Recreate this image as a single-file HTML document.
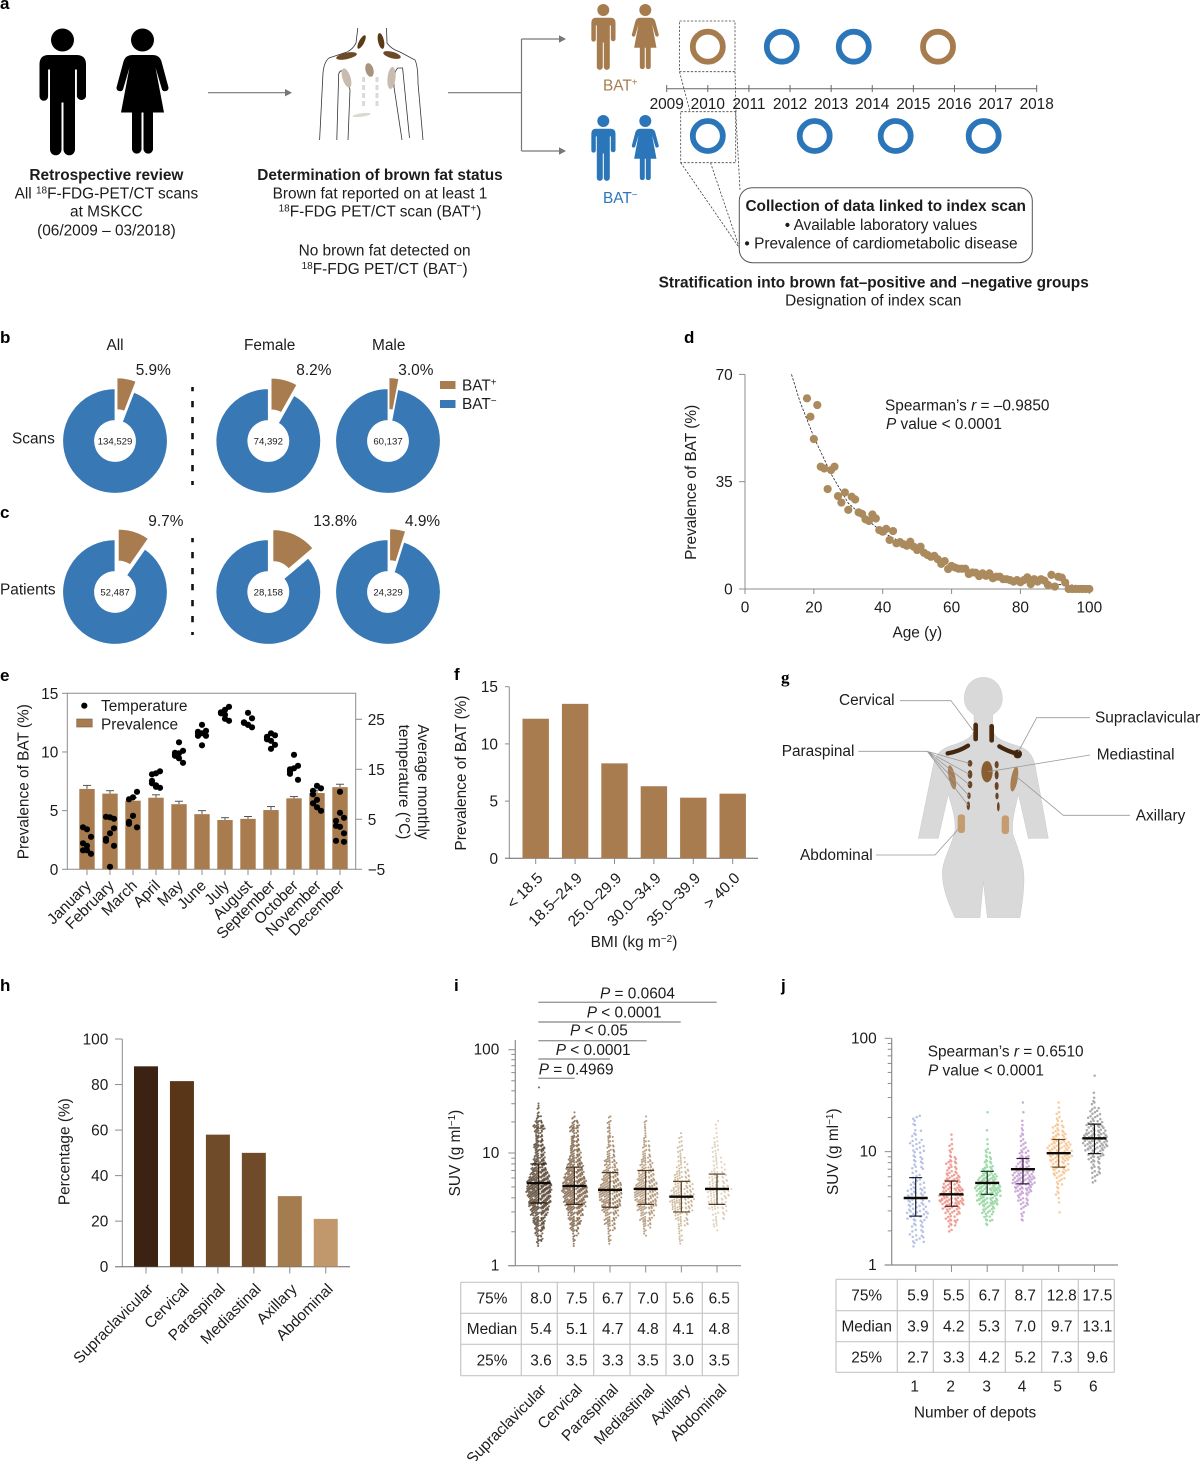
<!DOCTYPE html>
<html lang="en">
<head>
<meta charset="utf-8">
<title>Brown fat prevalence figure</title>
<style>
html,body{margin:0;padding:0;background:#fff;}
svg{display:block;}
text{font-family:"Liberation Sans",Arial,sans-serif;font-size:15.4px;fill:#1c1c1c;}
.b{font-weight:bold;}
.pl{font-weight:bold;font-size:17px;fill:#000;}
.m{text-anchor:middle;}
.i{font-style:italic;}
</style>
</head>
<body>
<svg id="fig" xmlns="http://www.w3.org/2000/svg" width="1200" height="1461" viewBox="0 0 1200 1461">
<defs>
<g id="male"><circle cx="0" cy="12.5" r="11.5"/><path d="M-23,37 Q-23,27.5 -14,27.5 L14,27.5 Q23.5,27.5 23.5,37 L23.5,69 A4.7,4.7 0 0 1 14.4,69 L14.4,42 L12.5,42 L12.5,122 A5.7,5.7 0 0 1 1,122 L1,75 L-1,75 L-1,122 A5.7,5.7 0 0 1 -12.5,122 L-12.5,42 L-14.4,42 L-14.4,69 A4.3,4.3 0 0 1 -23,69 Z"/></g>
<g id="female"><circle cx="0" cy="12.5" r="11.5"/><path d="M-10,27.5 L10,27.5 Q17,27.5 19,34 L26,60 A3.5,3.5 0 0 1 19.5,62 L13,40 L21.5,85 L10.5,85 L10.5,122 A4.8,4.8 0 0 1 1,122 L1,85 L-1,85 L-1,122 A4.8,4.8 0 0 1 -10.5,122 L-10.5,85 L-21.5,85 L-13,40 L-19.5,62 A3.5,3.5 0 0 1 -26,60 L-19,34 Q-17,27.5 -10,27.5 Z"/></g>
</defs>

<!-- panel letters -->
<text class="pl" x="0" y="9">a</text>
<text class="pl" x="0" y="343">b</text>
<text class="pl" x="0" y="518">c</text>
<text class="pl" x="684" y="343">d</text>
<text class="pl" x="0" y="681">e</text>
<text class="pl" x="454" y="680">f</text>
<text class="pl" x="781" y="683" style="font-family:'Liberation Serif',serif">g</text>
<text class="pl" x="0" y="991">h</text>
<text class="pl" x="454" y="991">i</text>
<text class="pl" x="781" y="991">j</text>

<!-- panel a -->
<g>
<use href="#male" transform="translate(62.5,27.5)" fill="#000"/>
<use href="#female" transform="translate(142.5,27.5)" fill="#000"/>
<text class="b m" x="106.4" y="180">Retrospective review</text>
<text class="m" x="106.4" y="198.3">All <tspan dy="-5" font-size="10">18</tspan><tspan dy="5">F-FDG-PET/CT scans</tspan></text>
<text class="m" x="106.4" y="216.7">at MSKCC</text>
<text class="m" x="106.4" y="235.6">(06/2009 – 03/2018)</text>
<path d="M208,92.7 H288" stroke="#777" stroke-width="1.2" fill="none"/>
<path d="M285,89 L292,92.7 L285,96.4 Z" fill="#777"/>
<g>
<path d="M357.8,28 L356,43 Q352,51 344,53 L329,58 Q324,62 323,73 L319.6,140 M386.5,28 L387,43 Q391,49 400,52 L415,60 Q418,66 418,83 L423,140 M336.8,140 L338.7,74 Q340,70 342.5,71 Q348,78 350,90 L348,140 M402,140 L394,87 Q394,70 398,68 L402.6,68 L409.5,138" fill="none" stroke="#333" stroke-width=".8"/>
<ellipse cx="361.6" cy="42" rx="2.6" ry="7.5" transform="rotate(28 361.6 42)" fill="#5c3a18"/>
<ellipse cx="381" cy="41" rx="3" ry="8" transform="rotate(-12 381 41)" fill="#5c3a18"/>
<ellipse cx="346.5" cy="56" rx="10.5" ry="3.2" transform="rotate(-12 346.5 56)" fill="#6d4a26"/>
<ellipse cx="392" cy="55" rx="9" ry="3.2" transform="rotate(15 392 55)" fill="#6d4a26"/>
<ellipse cx="369.5" cy="70" rx="4" ry="7" transform="rotate(-15 369.5 70)" fill="#a8937d"/>
<ellipse cx="346.5" cy="78" rx="4" ry="10" transform="rotate(-18 346.5 78)" fill="#c8bcae"/>
<ellipse cx="391.5" cy="78" rx="4" ry="11" transform="rotate(6 391.5 78)" fill="#c8bcae"/>
<path d="M363.6,77 V107 M377,77 V107" stroke="#dcd9d4" stroke-width="3" stroke-dasharray="5 3" fill="none"/>
<ellipse cx="361.6" cy="115" rx="9" ry="1.8" transform="rotate(-8 361.6 115)" fill="#dcd9d4"/>
</g>
<text class="b m" x="380" y="180">Determination of brown fat status</text>
<text class="m" x="380" y="198.3">Brown fat reported on at least 1</text>
<text class="m" x="380" y="216.7"><tspan dy="-5" font-size="10">18</tspan><tspan dy="5">F-FDG PET/CT scan (BAT</tspan><tspan dy="-5" font-size="10">+</tspan><tspan dy="5">)</tspan></text>
<text class="m" x="384.6" y="255.7">No brown fat detected on</text>
<text class="m" x="384.6" y="274"><tspan dy="-5" font-size="10">18</tspan><tspan dy="5">F-FDG PET/CT (BAT</tspan><tspan dy="-5" font-size="10">−</tspan><tspan dy="5">)</tspan></text>
<path d="M448,92.7 H521.5 M521.5,39 V151 M521.5,39 H562 M521.5,151 H562" stroke="#777" stroke-width="1.2" fill="none"/>
<path d="M559,35.3 L566,39 L559,42.7 Z M559,147.3 L566,151 L559,154.7 Z" fill="#777"/>
<use href="#male" transform="translate(603.3,3.5) scale(.52)" fill="#a67c4e"/>
<use href="#female" transform="translate(645.3,3.5) scale(.52)" fill="#a67c4e"/>
<use href="#male" transform="translate(603.3,114.5) scale(.52)" fill="#2b76b9"/>
<use href="#female" transform="translate(645.3,114.5) scale(.52)" fill="#2b76b9"/>
<text x="603" y="90.7" style="fill:#a67c4e">BAT<tspan dy="-5" font-size="10" style="fill:#a67c4e">+</tspan></text>
<text x="603" y="203" style="fill:#2b76b9">BAT<tspan dy="-5" font-size="10" style="fill:#2b76b9">−</tspan></text>
<g id="timeline"></g>
<g id="rings"></g>
<g fill="none" stroke="#444" stroke-width=".8" stroke-dasharray="2.2 1.6">
<rect x="679.5" y="21" width="55.5" height="50.7"/>
<rect x="680.7" y="111.7" width="55" height="51"/>
<path d="M679.5,71.7 L690,111.7 M735,71.7 L736,111.7 M735.7,111.7 L740,190 M680.7,162.7 L739.5,248 M710.5,162.7 L739.5,248"/>
</g>
<rect x="739.3" y="187.7" width="293" height="75" rx="13" fill="#fff" stroke="#555" stroke-width="1"/>
<text class="b m" x="885.7" y="211">Collection of data linked to index scan</text>
<text class="m" x="881" y="230">• Available laboratory values</text>
<text class="m" x="881" y="248.3">• Prevalence of cardiometabolic disease</text>
<text class="b m" x="873.7" y="287.3">Stratification into brown fat–positive and –negative groups</text>
<text class="m" x="873.3" y="305.7">Designation of index scan</text>
</g>

<!-- panels b, c -->
<g id="pies">
<text class="m" x="115" y="350">All</text>
<text class="m" x="269.7" y="350">Female</text>
<text class="m" x="388.7" y="350">Male</text>
<text x="12" y="443.3">Scans</text>
<text x="0" y="594.3">Patients</text>
<path d="M192.5,387 V485 M192.5,538 V635" stroke="#111" stroke-width="2.6" stroke-dasharray="6.3 9.7" stroke-dashoffset="2" fill="none"/>
<rect x="440" y="381" width="15.5" height="8" fill="#a87c4f"/>
<text x="462" y="390.5">BAT<tspan dy="-5" font-size="10">+</tspan></text>
<rect x="440" y="400" width="15.5" height="8" fill="#3878b4"/>
<text x="462" y="409">BAT<tspan dy="-5" font-size="10">−</tspan></text>
</g>

<!-- panel d -->
<g id="panelD">
<text x="885" y="410.7">Spearman’s <tspan class="i">r</tspan> = –0.9850</text>
<text x="886" y="429"><tspan class="i">P</tspan> value &lt; 0.0001</text>
</g>

<!-- panel e -->
<g id="panelE"></g>
<!-- panel f -->
<g id="panelF"></g>

<!-- panel g -->
<g>
<g transform="translate(770,670) scale(.33333)">
<path d="M640,22 C675,22 697,50 697,85 C697,115 680,125 668,135 L668,180 C675,205 700,215 745,228 C775,238 788,255 795,285 L835,505 L775,505 L745,372 C735,420 725,450 728,490 C745,540 762,580 762,625 C762,670 755,710 750,743 L652,743 L640,635 L630,743 L555,743 C540,710 517,660 517,610 C517,570 545,530 555,480 C557,440 545,410 535,372 L505,505 L445,505 L490,285 C495,258 510,238 540,228 C580,215 605,205 612,180 L612,135 C600,125 583,115 583,85 C583,50 605,22 640,22 Z" fill="#d9d9d9" stroke="#bbb" stroke-width="1"/>
<rect x="610" y="158" width="14" height="56" rx="7" fill="#4a2a10"/>
<rect x="658" y="162" width="14" height="56" rx="7" fill="#4a2a10"/>
<path d="M533,250 Q565,245 594,227" fill="none" stroke="#42260f" stroke-width="13" stroke-linecap="round"/>
<path d="M688,229 Q715,245 745,252" fill="none" stroke="#42260f" stroke-width="13" stroke-linecap="round"/>
<circle cx="743" cy="252" r="13" fill="#42260f"/>
<g fill="#6b4423">
<ellipse cx="600" cy="280" rx="7" ry="10"/><ellipse cx="600" cy="313" rx="7" ry="13"/><ellipse cx="600" cy="344" rx="7" ry="11"/><ellipse cx="597" cy="377" rx="5" ry="10"/><ellipse cx="595" cy="407" rx="5" ry="13"/>
<ellipse cx="680" cy="284" rx="6" ry="11"/><ellipse cx="680" cy="315" rx="6" ry="13"/><ellipse cx="680" cy="348" rx="6" ry="12"/><ellipse cx="681" cy="378" rx="5" ry="10"/><ellipse cx="685" cy="410" rx="4" ry="14"/>
</g>
<ellipse cx="651" cy="305" rx="17" ry="32" fill="#8a5e33"/>
<ellipse cx="546" cy="322" rx="10" ry="37" transform="rotate(-12 546 322)" fill="#a87f52"/>
<ellipse cx="733" cy="327" rx="10" ry="38" transform="rotate(10 733 327)" fill="#a87f52"/>
<rect x="563" y="433" width="22" height="56" rx="9" fill="#c49c6e"/>
<rect x="695" y="436" width="22" height="56" rx="9" fill="#c49c6e"/>
<path d="M390,92 H543 L612,185 M960,143 H800 L745,245 M960,255 L655,305 M1080,436 H880 L737,318 M265,244 H472 M472,244 L598,280 M472,244 L598,313 M472,244 L598,344 M472,244 L597,377 M472,244 L595,407 M318,555 H495 L572,470" fill="none" stroke="#999" stroke-width="2.4"/>
</g>
<text x="839" y="705">Cervical</text>
<text x="1095" y="722.3">Supraclavicular</text>
<text x="781.7" y="756">Paraspinal</text>
<text x="1096.7" y="759.3">Mediastinal</text>
<text x="1135.7" y="820.7">Axillary</text>
<text x="800" y="860">Abdominal</text>
</g>

<!-- panel h -->
<g id="panelH"></g>
<!-- panel i -->
<g id="panelI">
<text x="600" y="998.3"><tspan class="i">P</tspan> = 0.0604</text>
<text x="586.7" y="1017.3"><tspan class="i">P</tspan> &lt; 0.0001</text>
<text x="570" y="1035.7"><tspan class="i">P</tspan> &lt; 0.05</text>
<text x="555.7" y="1055"><tspan class="i">P</tspan> &lt; 0.0001</text>
<text x="538.7" y="1074.3"><tspan class="i">P</tspan> = 0.4969</text>
<path d="M538.3,1002.3 H716.7 M538.3,1022 H680.7 M538.3,1040.7 H646.7 M538.3,1059 H610 M538.3,1078.3 H574.7" stroke="#999" stroke-width="1.4" fill="none"/>
</g>
<!-- panel j -->
<g id="panelJ">
<text x="927.7" y="1056.7">Spearman’s <tspan class="i">r</tspan> = 0.6510</text>
<text x="928" y="1075.7"><tspan class="i">P</tspan> value &lt; 0.0001</text>
<text class="m" x="975" y="1417.7">Number of depots</text>
</g>
</svg>

<script>
// ---------- panel a data ----------
var timelineYears = [2009,2010,2011,2012,2013,2014,2015,2016,2017,2018];
// ---------- panels b, c data ----------
var pieGroups = ['all-scans','female-scans','male-scans','all-patients','female-patients','male-patients'];
var piePercents = [5.9,8.2,3.0,9.7,13.8,4.9];
var pieTotals = ['134,529','74,392','60,137','52,487','28,158','24,329'];
// ---------- panel d data ----------
var ageValues = [18,19,20,21,22,23,24,25,26,27,28,29,30,31,32,33,34,35,36,37,38,39,40,41,42,43,44,45,46,47,48,49,50,51,52,53,54,55,56,57,58,59,60,61,62,63,64,65,66,67,68,69,70,71,72,73,74,75,76,77,78,79,80,81,82,83,84,85,86,87,88,89,90,91,92,93,94,95,96,97,98,99,100];
var batByAge = [62.2,56.2,48.9,60,39.9,39.3,32.6,38.8,39.9,30.3,28.2,31.5,25.8,30.1,29.2,25,24.5,22.7,22.2,24.3,23,19.2,18.7,19.6,16,18.9,14.9,15.3,14.6,14.1,15.4,13.8,12.7,13.8,11.8,11.1,10.5,10.8,9.7,8.2,9.1,6.5,7.5,7,6.6,6.6,6.6,4.9,5.4,5.3,4.2,5.1,4.3,5.1,3.5,4,4,3.2,3.2,2.9,2.4,2.9,2.2,2.9,3.8,1.6,3.2,2.4,3.2,2.7,1.3,4.6,0.8,4,3.7,2.1,0,0,0,0,0,0,0];
var fitAges = [13.5,16,20,25,30,35,40,50,60,70,80,90,100];
var fitValues = [70,61,49.5,37.5,28,23,18.5,12.5,7.5,4.5,2.5,1.5,1];
var ageTicks = [0,20,40,60,80,100];
var batTicks = [0,35,70];
// ---------- panel e data ----------
var months = ['January','February','March','April','May','June','July','August','September','October','November','December'];
var monthPrevalence = [6.85,6.45,5.85,6.1,5.55,4.7,4.2,4.3,5.05,6.05,6.5,7.0];
var monthPrevalenceUpper = [7.15,6.7,6.1,6.35,5.8,5.0,4.4,4.5,5.35,6.2,6.75,7.25];
var tempJanuary = [3.4,3.0,1.5,0.2,-0.3,-1.9,-1.2,-1.2];
var tempFebruary = [5.5,5.4,5.1,1.1,2.2,3.2,0.7,-4.5,-0.3];
var tempMarch = [9,9.4,10.5,4.5,5.7,3.4,4.1];
var tempApril = [12.7,14.2,14.6,12.2,11.8,11.3,14,11.5];
var tempMay = [18.3,20.4,18.7,17.9,18.2,16.3,17.7,17.2];
var tempJune = [22.5,23.9,22.7,22.2,22.2,21.7,21.7,19.8];
var tempJuly = [26.3,26.9,27.5,26.2,25.9,24.7,26.4,25.1];
var tempAugust = [24.4,26.3,25.2,24.3,23.9,23.4,24.3,23.9];
var tempSeptember = [21.2,22.2,21.8,21.0,20.7,19.9,21.5,19.1];
var tempOctober = [15,17.9,15.7,14.6,15.2,12.9,14.1];
var tempNovember = [10.7,11.7,11.2,10,8.9,6.7,8.2,7.4];
var tempDecember = [4.7,10.5,5.3,3.7,6.3,2.2,0.7,3.5,0.5];
var prevalenceTicksE = [0,5,10,15];
var temperatureTicks = [-5,5,15,25];
// ---------- panel f data ----------
var bmiCategories = ['< 18.5','18.5–24.9','25.0–29.9','30.0–34.9','35.0–39.9','> 40.0'];
var bmiPrevalence = [12.2,13.5,8.3,6.3,5.3,5.65];
var prevalenceTicksF = [0,5,10,15];
// ---------- panel h data ----------
var depotNames = ['Supraclavicular','Cervical','Paraspinal','Mediastinal','Axillary','Abdominal'];
var depotPercent = [88,81.5,58,50,31,21];
var percentTicks = [0,20,40,60,80,100];
// ---------- panels i, j: SUV beeswarm data (dot counts per SUV bin) ----------
var suvBins = [1.5,1.65,1.8,2,2.2,2.4,2.6,2.9,3.2,3.5,3.8,4.2,4.6,5,5.5,6,6.6,7.2,8,8.7,9.5,10.5,11.5,12.6,13.8,15,16.6,18,20,22,24,26.5,29,32,35,38,42,46];
var countsSupraclavicular = [2,5,7,10,12,14,16,22,24,28,30,32,34,34,32,28,24,20,16,14,12,12,14,10,8,8,10,14,8,4,3,2,2,0,0,0,1,0];
var countsCervical = [2,2,4,7,9,12,14,18,20,24,27,30,32,30,28,26,22,20,18,14,12,12,10,8,8,6,9,10,6,3,1,0,0,0,0,0,0,0];
var countsParaspinal = [1,2,3,4,6,9,10,13,16,18,20,22,22,22,18,15,13,12,10,9,7,6,5,4,4,3,3,3,3,2,0,0,0,0,0,0,0,0];
var countsMediastinal = [0,0,1,3,5,7,10,12,15,18,20,22,22,20,18,15,14,12,10,8,7,5,5,4,3,2,2,2,2,1,0,0,0,0,0,0,0,0];
var countsAxillary = [1,2,3,3,4,6,8,10,14,14,16,16,14,12,12,10,9,7,5,4,3,3,3,2,2,1,0,0,0,0,0,0,0,0,0,0,0,0];
var countsAbdominal = [0,0,0,1,2,3,5,6,8,8,10,11,11,12,10,8,7,5,5,4,3,3,3,3,2,1,1,1,1,0,0,0,0,0,0,0,0,0];
var countsOneDepot = [2,4,5,4,4,4,7,8,7,6,8,7,6,5,4,3,2,4,4,4,3,4,5,3,2,3,1,2,3,0,0,0,0,0,0,0,0,0];
var countsTwoDepots = [0,0,0,2,3,5,6,8,10,13,14,14,12,10,9,8,6,5,6,4,2,2,2,1,1,0,0,0,0,0,0,0,0,0,0,0,0,0];
var countsThreeDepots = [0,0,0,0,1,3,5,7,8,12,14,16,17,16,14,11,8,7,5,4,3,2,1,1,0,1,0,0,0,1,0,0,0,0,0,0,0,0];
var countsFourDepots = [0,0,0,0,0,1,2,2,3,4,6,7,10,11,14,13,11,9,7,5,5,4,3,2,2,2,2,1,0,1,0,1,0,0,0,0,0,0];
var countsFiveDepots = [0,0,0,0,0,0,0,1,0,1,1,2,2,3,3,5,7,9,9,11,13,13,11,9,7,6,6,3,2,2,1,1,0,0,0,0,0,0];
var countsSixDepots = [0,0,0,0,0,0,0,0,0,0,0,0,0,0,2,3,4,5,5,6,8,11,13,13,13,11,9,7,6,5,3,2,2,1,0,0,0,1];
var depotQ3 = [8.0,7.5,6.7,7.0,5.6,6.5];
var depotMedian = [5.4,5.1,4.7,4.8,4.1,4.8];
var depotQ1 = [3.6,3.5,3.3,3.5,3.0,3.5];
var countQ3 = [5.9,5.5,6.7,8.7,12.8,17.5];
var countMedian = [3.9,4.2,5.3,7.0,9.7,13.1];
var countQ1 = [2.7,3.3,4.2,5.2,7.3,9.6];
var depotCountLabels = ['1','2','3','4','5','6'];
var suvMajorTicks = [1,10,100];
var suvMinorTicks = [2,3,4,5,6,7,8,9,20,30,40,50,60,70,80,90];
var tableRowNames = ['75%','Median','25%'];

// ---------- helpers ----------
var NS = 'http://www.w3.org/2000/svg';
function make(parent, tag, attrs, name, text) {
  var el = document.createElementNS(NS, tag);
  for (var k in attrs) { el.setAttribute(k, attrs[k]); }
  
  
  if (text !== undefined) { el.textContent = text; }
  parent.appendChild(el);
  return el;
}
function line(p, x1, y1, x2, y2, color, w, name) {
  return make(p, 'line', {x1:x1, y1:y1, x2:x2, y2:y2, stroke:color, 'stroke-width':w}, name);
}
function txt(p, x, y, s, anchor, name) {
  return make(p, 'text', {x:x, y:y, 'text-anchor':anchor || 'start'}, name, s);
}
function rotText(p, x, y, s, deg, anchor, name) {
  return make(p, 'text', {x:x, y:y, 'text-anchor':anchor, transform:'rotate('+deg+' '+x+' '+y+')'}, name, s);
}
function supTitle(p, x, y, name) {
  var t = make(p, 'text', {x:x, y:y, 'text-anchor':'middle', transform:'rotate(-90 '+x+' '+y+')'}, name);
  t.innerHTML = 'SUV (g ml<tspan dy="-5" font-size="10">−1</tspan><tspan dy="5">)</tspan>';
}
var AX = '#8c8c8c';

// ---------- timeline ----------
(function () {
  var g = document.getElementById('timeline');
  var xT = function (yr) { return 666.7 + (yr - 2009) * 41.11; };
  line(g, xT(2009), 88.7, xT(2018), 88.7, '#666', 1, 'timeline-axis');
  timelineYears.forEach(function (yr) {
    line(g, xT(yr), 85, xT(yr), 92, '#666', 1, 'timeline-tick');
    txt(g, xT(yr), 109, String(yr), 'middle', 'timeline-year');
  });
  var r = document.getElementById('rings');
  var ringYears = [2010, 2011.8, 2013.55, 2015.6];
  var ringYearsNeg = [2010, 2012.6, 2014.57, 2016.71];
  var ringColors = ['#a67c4e', '#2b76b9', '#2b76b9', '#a67c4e'];
  ringYears.forEach(function (yr, i) {
    make(r, 'circle', {cx:xT(yr), cy:46.7, r:15, fill:'none', stroke:ringColors[i], 'stroke-width':5.8}, 'scan-ring-top');
  });
  ringYearsNeg.forEach(function (yr) {
    make(r, 'circle', {cx:xT(yr), cy:136, r:15, fill:'none', stroke:'#2b76b9', 'stroke-width':5.8}, 'scan-ring-bottom');
  });
})();

// ---------- donuts ----------
(function () {
  var g = document.getElementById('pies');
  var cxs = [115, 268.3, 388, 115, 268.3, 388];
  var cys = [441, 441, 441, 592, 592, 592];
  var pctX = [135.7, 296.3, 398.3, 148.3, 313.3, 405];
  var R = 52.3, r = 20.5, off = 11;
  function pt(cx, cy, rad, a) { return (cx + rad * Math.sin(a)).toFixed(2) + ',' + (cy - rad * Math.cos(a)).toFixed(2); }
  function sector(cx, cy, a0, a1) {
    var large = (a1 - a0) > Math.PI ? 1 : 0;
    return 'M' + pt(cx, cy, r, a0) + ' L' + pt(cx, cy, R, a0) + ' A' + R + ',' + R + ' 0 ' + large + ' 1 ' + pt(cx, cy, R, a1) +
      ' L' + pt(cx, cy, r, a1) + ' A' + r + ',' + r + ' 0 ' + large + ' 0 ' + pt(cx, cy, r, a0) + ' Z';
  }
  piePercents.forEach(function (p, i) {
    var a = p / 100 * 2 * Math.PI;
    var cx = cxs[i], cy = cys[i];
    make(g, 'path', {d:sector(cx, cy, a, 2 * Math.PI), fill:'#3878b4', stroke:'#fff', 'stroke-width':0.8}, 'donut-bat-negative-' + pieGroups[i]);
    var sx = cx + off * Math.sin(a / 2), sy = cy - off * Math.cos(a / 2);
    make(g, 'path', {d:sector(sx, sy, 0, a), fill:'#a87c4f', stroke:'#fff', 'stroke-width':0.8}, 'donut-bat-positive-' + pieGroups[i]);
    make(g, 'text', {x:cx, y:cy + 3.4, 'text-anchor':'middle', style:'font-size:9.6px'}, 'donut-total-' + pieGroups[i], pieTotals[i]);
    txt(g, pctX[i], i < 3 ? 375 : 526, p.toFixed(1) + '%', 'start', 'donut-percent-' + pieGroups[i]);
  });
})();

// ---------- panel d ----------
(function () {
  var g = document.getElementById('panelD');
  var xS = function (v) { return 745 + v * 3.443; };
  var yS = function (v) { return 589 - v * 3.066; };
  line(g, 745, 374.3, 745, 589, AX, 1, 'y-axis');
  line(g, 739, 589, 1089.3, 589, AX, 1, 'x-axis');
  ageTicks.forEach(function (t) {
    line(g, xS(t), 589, xS(t), 594, AX, 1, 'x-tick');
    txt(g, xS(t), 612.7, String(t), 'middle', 'x-tick-label');
  });
  batTicks.forEach(function (t) {
    line(g, 739, yS(t), 745, yS(t), AX, 1, 'y-tick');
    txt(g, 732.7, yS(t) + 5.5, String(t), 'end', 'y-tick-label');
  });
  txt(g, 917.3, 637.3, 'Age (y)', 'middle', 'x-axis-title');
  rotText(g, 696, 482.3, 'Prevalence of BAT (%)', -90, 'middle', 'y-axis-title');
  var pts = fitAges.map(function (a, i) { return xS(a).toFixed(1) + ',' + yS(fitValues[i]).toFixed(1); }).join(' ');
  make(g, 'polyline', {points:pts, fill:'none', stroke:'#222', 'stroke-width':0.8, 'stroke-dasharray':'2.5 1.5'}, 'fit-curve');
  ageValues.forEach(function (a, i) {
    make(g, 'circle', {cx:xS(a), cy:yS(batByAge[i]), r:4.1, fill:'#ab8a5e'}, 'point-age-' + a);
  });
})();

// ---------- panel e ----------
(function () {
  var g = document.getElementById('panelE');
  var temps = [tempJanuary,tempFebruary,tempMarch,tempApril,tempMay,tempJune,tempJuly,tempAugust,tempSeptember,tempOctober,tempNovember,tempDecember];
  var xS = function (i) { return 87 + i * 23; };
  var yL = function (v) { return 869.3 - v * 11.733; };
  var yR = function (v) { return 869.3 - (v + 5) * 5; };
  make(g, 'path', {d:'M67.3,693.3 H355.7 V869.3 H67.3 Z', fill:'none', stroke:AX, 'stroke-width':1}, 'plot-frame');
  prevalenceTicksE.forEach(function (t) {
    line(g, 62, yL(t), 67.3, yL(t), AX, 1, 'left-tick');
    txt(g, 58.3, yL(t) + 5.5, String(t), 'end', 'left-tick-label');
  });
  temperatureTicks.forEach(function (t) {
    line(g, 355.7, yR(t), 362, yR(t), AX, 1, 'right-tick');
    txt(g, 367.7, yR(t) + 5.5, String(t).replace('-', '−'), 'start', 'right-tick-label');
  });
  months.forEach(function (m, i) {
    var x = xS(i);
    line(g, x, yL(monthPrevalenceUpper[i]), x, yL(monthPrevalence[i]), '#555', 1, 'error-bar-' + m);
    line(g, x - 4, yL(monthPrevalenceUpper[i]), x + 4, yL(monthPrevalenceUpper[i]), '#555', 1, 'error-cap-' + m);
    make(g, 'rect', {x:x - 7.7, y:yL(monthPrevalence[i]), width:15.4, height:869.3 - yL(monthPrevalence[i]), fill:'#a87c4f'}, 'bar-' + m);
    line(g, x, 869.3, x, 875, AX, 1, 'x-tick');
    rotText(g, x + 5, 886.5, m, -45, 'end', 'month-label-' + m);
  });
  var offs = [-4, 0, 4];
  temps.forEach(function (arr, i) {
    arr.forEach(function (t, k) {
      make(g, 'circle', {cx:xS(i) + offs[k % 3], cy:yR(t), r:3.1, fill:'#000'}, 'temperature-point-' + months[i]);
    });
  });
  make(g, 'circle', {cx:84.3, cy:705.7, r:3.1, fill:'#000'}, 'legend-marker-temperature');
  txt(g, 101, 711, 'Temperature', 'start', 'legend-entry-temperature');
  make(g, 'rect', {x:76.7, y:719, width:15.5, height:8, fill:'#a87c4f', stroke:'#6d5a44', 'stroke-width':0.6}, 'legend-marker-prevalence');
  txt(g, 101, 729.5, 'Prevalence', 'start', 'legend-entry-prevalence');
  rotText(g, 28.3, 781.7, 'Prevalence of BAT (%)', -90, 'middle', 'left-axis-title');
  rotText(g, 418, 782, 'Average monthly', 90, 'middle', 'right-axis-title-line-1');
  rotText(g, 399, 782, 'temperature (°C)', 90, 'middle', 'right-axis-title-line-2');
})();

// ---------- panel f ----------
(function () {
  var g = document.getElementById('panelF');
  var xS = function (i) { return 535.7 + i * 39.4; };
  var yS = function (v) { return 858.3 - v * 11.44; };
  line(g, 509.3, 686.7, 509.3, 858.3, AX, 1, 'y-axis');
  line(g, 505, 858.3, 758, 858.3, '#666', 1, 'x-axis');
  prevalenceTicksF.forEach(function (t) {
    line(g, 505, yS(t), 509.3, yS(t), AX, 1, 'y-tick');
    txt(g, 498, yS(t) + 5.5, String(t), 'end', 'y-tick-label');
  });
  bmiCategories.forEach(function (c, i) {
    var x = xS(i);
    make(g, 'rect', {x:x - 13.2, y:yS(bmiPrevalence[i]), width:26.4, height:858.3 - yS(bmiPrevalence[i]), fill:'#a87c4f'}, 'bar-bmi-' + (i + 1));
    line(g, x, 858.3, x, 864, AX, 1, 'x-tick');
    rotText(g, x + 8, 879, c, -45, 'end', 'bmi-label-' + (i + 1));
  });
  rotText(g, 466, 773, 'Prevalence of BAT (%)', -90, 'middle', 'y-axis-title');
  var t = make(g, 'text', {x:634, y:947, 'text-anchor':'middle'}, 'x-axis-title');
  t.innerHTML = 'BMI (kg m<tspan dy="-5" font-size="10">−2</tspan><tspan dy="5">)</tspan>';
})();

// ---------- panel h ----------
(function () {
  var g = document.getElementById('panelH');
  var barColors = ['#3c2213','#5a3618','#704b29','#704b29','#a57c50','#c0986c'];
  var xS = function (i) { return 146 + i * 35.95; };
  var yS = function (v) { return 1266.7 - v * 2.277; };
  line(g, 122.3, 1039, 122.3, 1266.7, AX, 1, 'y-axis');
  line(g, 115, 1266.7, 350, 1266.7, '#666', 1, 'x-axis');
  percentTicks.forEach(function (t) {
    line(g, 115, yS(t), 122.3, yS(t), AX, 1, 'y-tick');
    txt(g, 108.3, yS(t) + 5.5, String(t), 'end', 'y-tick-label');
  });
  depotNames.forEach(function (n, i) {
    var x = xS(i);
    make(g, 'rect', {x:x - 12, y:yS(depotPercent[i]), width:24, height:1266.7 - yS(depotPercent[i]), fill:barColors[i]}, 'bar-' + n);
    line(g, x, 1266.7, x, 1273.5, AX, 1, 'x-tick');
    rotText(g, x + 8, 1290, n, -45, 'end', 'depot-label-' + n);
  });
  rotText(g, 69.3, 1151.7, 'Percentage (%)', -90, 'middle', 'y-axis-title');
})();

// ---------- swarm drawing ----------
function swarm(g, x, counts, yS, rows, spacing, radius, color, opacity, name) {
  counts.forEach(function (n, b) {
    var centre = yS(suvBins[b]);
    var rowH = 4.5 / rows;
    for (var k = 0; k < n; k++) {
      var row = k % rows;
      var p = Math.floor(k / rows);
      var side = p % 2 ? 1 : -1;
      var fr = ((k + b * 3) * 0.618) % 1;
      var dx = side * (Math.floor((p + 1) / 2) + row / rows) * spacing + (fr - 0.5) * spacing * 0.5;
      var dy = (row - (rows - 1) / 2) * rowH + (fr - 0.5) * rowH * 0.8;
      make(g, 'circle', {cx:x + dx, cy:centre + dy, r:radius, fill:color, 'fill-opacity':opacity}, name);
    }
  });
}
function summary(g, x, med, q1, q3, yS, halfMed, halfCap, barColor, name) {
  line(g, x, yS(q3), x, yS(q1), barColor, 1.2, name + '-iqr-bar');
  line(g, x - halfCap, yS(q3), x + halfCap, yS(q3), barColor, 1.2, name + '-q3-cap');
  line(g, x - halfCap, yS(q1), x + halfCap, yS(q1), barColor, 1.2, name + '-q1-cap');
  line(g, x - halfMed, yS(med), x + halfMed, yS(med), '#0e0a06', 2.4, name + '-median');
}
function gridTable(g, x0, x1, yRows, xCols, name) {
  yRows.forEach(function (y) { line(g, x0, y, x1, y, '#c6c6c6', 1.2, name + '-row-line'); });
  [x0].concat(xCols).concat([x1]).forEach(function (x) { line(g, x, yRows[0], x, yRows[yRows.length - 1], '#c6c6c6', 1.2, name + '-column-line'); });
}
function logAxis(g, axisX, top, bottom, right, yS) {
  line(g, axisX, top, axisX, bottom, AX, 1.2, 'y-axis');
  line(g, axisX - 7, bottom, right, bottom, AX, 1.2, 'x-axis');
  suvMajorTicks.forEach(function (t) { line(g, axisX - 7, yS(t), axisX, yS(t), AX, 1, 'y-major-tick'); });
  suvMinorTicks.forEach(function (t) { line(g, axisX - 4, yS(t), axisX, yS(t), AX, 1, 'y-minor-tick'); });
}

// ---------- panel i ----------
(function () {
  var g = document.getElementById('panelI');
  var yS = function (v) { return v >= 10 ? 1153 - (Math.log10(v) - 1) * 103.3 : 1265.7 - Math.log10(v) * 112.7; };
  var xS = function (i) { return 538.7 + i * 35.66; };
  logAxis(g, 515.3, 1040, 1265.7, 741, yS);
  suvMajorTicks.forEach(function (t) { txt(g, 499.3, yS(t) + 5, String(t), 'end', 'y-tick-label'); });
  supTitle(g, 460, 1153, 'y-axis-title');
  var series = [countsSupraclavicular,countsCervical,countsParaspinal,countsMediastinal,countsAxillary,countsAbdominal];
  var dotColors = ['#554230','#7d6246','#98795a','#ad8f6e','#c6ac8c','#dac7ac'];
  var barColors = ['#241709','#3f2b14','#4f3a20','#4f3a20','#5c4426','#4f3a20'];
  var spacingByColumn = [2.1,2.3,2.9,3.0,4.0,5.0];
  depotNames.forEach(function (n, i) {
    var x = xS(i);
    line(g, x, 1265.7, x, 1272.5, AX, 1, 'x-tick');
    swarm(g, x, series[i], yS, 3, spacingByColumn[i], 1.05, dotColors[i], 0.8, 'suv-point-' + n);
    summary(g, x, depotMedian[i], depotQ1[i], depotQ3[i], yS, 12, 8.3, barColors[i], 'summary-' + n);
  });
  var yRows = [1282.3,1313.3,1344.3,1375.7];
  var xCols = [521.3,557.3,593.7,630,666,702.3];
  gridTable(g, 460.7, 738.3, yRows, xCols, 'summary-table');
  var base = [1303.3,1334,1365.7];
  var rowsData = [depotQ3,depotMedian,depotQ1];
  var cellX = [541,576.7,612.7,648,683.3,719.3];
  tableRowNames.forEach(function (r, ri) {
    txt(g, 492, base[ri], r, 'middle', 'table-row-label-' + r);
    rowsData[ri].forEach(function (v, ci) {
      txt(g, cellX[ci], base[ri], v.toFixed(1), 'middle', 'table-cell');
    });
  });
  depotNames.forEach(function (n, i) {
    rotText(g, 547 + i * 36.1, 1390.5, n, -45, 'end', 'depot-label-' + n);
  });
})();

// ---------- panel j ----------
(function () {
  var g = document.getElementById('panelJ');
  var yS = function (v) { return 1265 - Math.log10(v) * 113.35; };
  var xS = function (i) { return 915.7 + i * 35.75; };
  logAxis(g, 891.7, 1038.3, 1265, 1118, yS);
  suvMajorTicks.forEach(function (t) { txt(g, 876.7, yS(t) + 5, String(t), 'end', 'y-tick-label'); });
  supTitle(g, 838, 1151.7, 'y-axis-title');
  var series = [countsOneDepot,countsTwoDepots,countsThreeDepots,countsFourDepots,countsFiveDepots,countsSixDepots];
  var dotColors = ['#b4c0e2','#ee9a90','#9ad9a4','#c9a6d6','#f8c898','#a6a6a6'];
  var barColors = ['#14203c','#4a1a18','#153f24','#33183f','#6a4418','#111111'];
  var spacingByColumn = [5.0,3.4,2.9,3.2,3.6,3.6];
  depotCountLabels.forEach(function (n, i) {
    var x = xS(i);
    line(g, x, 1265, x, 1272, AX, 1, 'x-tick');
    swarm(g, x, series[i], yS, 2, spacingByColumn[i], 1.25, dotColors[i], 0.95, 'suv-point-depots-' + n);
    summary(g, x, countMedian[i], countQ1[i], countQ3[i], yS, 12, 6.5, barColors[i], 'summary-depots-' + n);
  });
  var yRows = [1279.3,1310.7,1341.7,1372.3];
  var xCols = [897.3,933.3,969.3,1005.3,1041.7,1078.3];
  gridTable(g, 836, 1114.3, yRows, xCols, 'summary-table');
  var base = [1300.7,1331.7,1362.3];
  var rowsData = [countQ3,countMedian,countQ1];
  var cellX = [918,953.7,989.3,1025.3,1061.7,1097.3];
  tableRowNames.forEach(function (r, ri) {
    txt(g, 866.7, base[ri], r, 'middle', 'table-row-label-' + r);
    rowsData[ri].forEach(function (v, ci) {
      txt(g, cellX[ci], base[ri], v.toFixed(1), 'middle', 'table-cell');
    });
  });
  var labelX = [914.7,950.7,986.7,1022,1057.7,1093.3];
  depotCountLabels.forEach(function (n, i) {
    txt(g, labelX[i], 1391.7, n, 'middle', 'depot-count-label-' + n);
  });
})();
</script>
</body>
</html>
